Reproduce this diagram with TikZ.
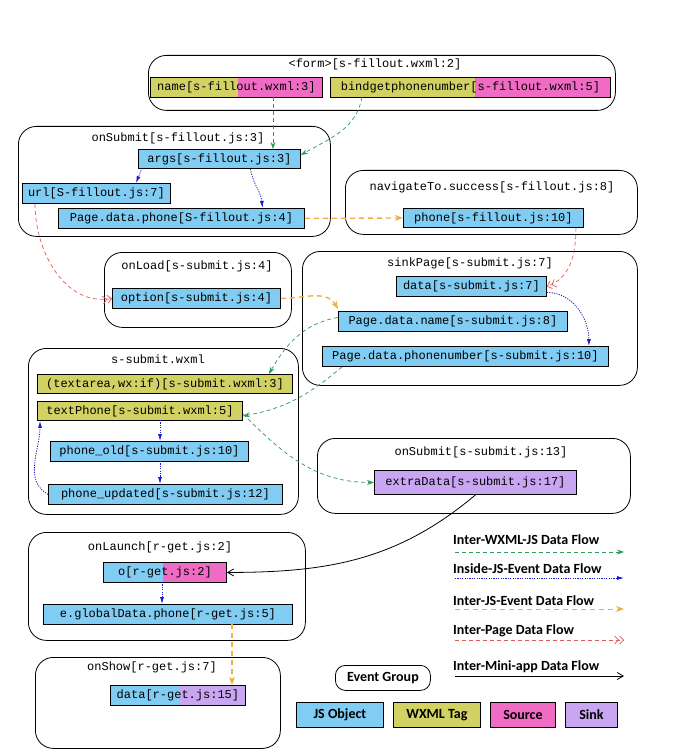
\documentclass[tikz,border=0pt]{standalone}
\usepackage{fontspec}
\setmainfont{Carlito}
\newfontfamily\mono{Liberation Mono}
\usetikzlibrary{arrows.meta}
\definecolor{jsb}{HTML}{80CCF2}
\definecolor{wy}{HTML}{D2D264}
\definecolor{src}{HTML}{F06CC4}
\definecolor{snk}{HTML}{C9A6F2}
\definecolor{gr}{HTML}{2E9A5E}
\definecolor{bl}{HTML}{1A1ACC}
\definecolor{og}{HTML}{F0B040}
\definecolor{rd}{HTML}{E05A5A}
\tikzset{
 obj/.style={draw, line width=0.9pt, fill=#1, inner sep=0pt, anchor=north west, font=\mono\fontsize{12}{12}\selectfont},
 obj/.default=jsb,
 split/.style 2 args={path picture={\fill[#1] ([xshift=#2]path picture bounding box.south west) rectangle (path picture bounding box.north east);}},
 grp/.style={draw, line width=0.8pt, rounded corners=18pt, anchor=north west, inner sep=0pt},
 ttl/.style={font=\mono\fontsize{12}{12}\selectfont, inner sep=0pt},
 gf/.style={gr, dash pattern=on 4pt off 3pt, line width=0.7pt, -{Stealth[length=7pt,width=5pt]}},
 bf/.style={bl, dash pattern=on 1.2pt off 1.2pt, line width=0.8pt, -{Latex[length=7pt,width=4pt]}},
 of/.style={og, dash pattern=on 5pt off 4pt, line width=1.4pt, -{Stealth[length=8pt,width=6pt]}},
 rf/.style={rd, dash pattern=on 4pt off 3pt, line width=0.7pt, -{Straight Barb[length=4pt]Straight Barb[length=4pt]}},
 kf/.style={black, line width=0.8pt, -{Straight Barb[length=6pt,width=7pt]}},
 lg/.style={font=\bfseries\fontsize{14}{14}\selectfont, inner sep=0pt, anchor=west},
 lgb/.style={font=\bfseries\fontsize{14}{14}\selectfont},
}
\newcommand\ob[7][jsb]{\node[obj=#1, minimum width={#5pt-#3pt}, minimum height={#6pt-#4pt}] (#2) at (#3,#4) {#7};}
\newcommand\gp[5]{\node[grp, minimum width={#4pt-#2pt}, minimum height={#5pt-#3pt}] (#1) at (#2,#3) {};}
\begin{document}
\begin{tikzpicture}[x=1pt,y=-1pt]
\useasboundingbox[fill=white] (0,0) rectangle (689,751);
% groups
\gp{gform}{148}{55}{615}{110}
\node[ttl] (tform) at (375,64) {<form>[s-fillout.wxml:2]};
\gp{gsub1}{18}{126}{330}{236}
\node[ttl] (tsub1) at (178,138) {onSubmit[s-fillout.js:3]};
\gp{gnav}{345}{170}{637}{234}
\node[ttl] (tnav) at (492,187) {navigateTo.success[s-fillout.js:8]};
\gp{gload}{104}{252}{291}{327}
\node[ttl] (tload) at (197,266) {onLoad[s-submit.js:4]};
\gp{gsink}{302}{251}{637}{385}
\node[ttl] (tsink) at (470,263) {sinkPage[s-submit.js:7]};
\gp{gwxml}{28}{348}{298}{514}
\node[ttl] (twxml) at (158,359) {s-submit.wxml};
\gp{gsub2}{317}{438}{630}{513}
\node[ttl] (tsub2) at (481,452) {onSubmit[s-submit.js:13]};
\gp{glaunch}{28}{532}{305}{640}
\node[ttl] (tlaunch) at (160,547) {onLaunch[r-get.js:2]};
\gp{gshow}{35}{657}{280}{748}
\node[ttl] (tshow) at (152,667) {onShow[r-get.js:7]};
% objects
\node[obj=wy, split={src}{88pt}, minimum width=172pt, minimum height=20pt] (name) at (150,77) {name[s-fillout.wxml:3]};
\node[obj=wy, split={src}{145pt}, minimum width=280pt, minimum height=20pt] (bind) at (330,77) {bindgetphonenumber[s-fillout.wxml:5]};
\ob{args}{138}{149}{300}{168}{args[s-fillout.js:3]}
\ob{url}{22}{183}{170}{203}{url[S-fillout.js:7]}
\ob{pdp}{58}{208}{304}{228}{Page.data.phone[S-fillout.js:4]}
\ob{phone}{403}{208}{583}{227}{phone[s-fillout.js:10]}
\ob{option}{112}{288}{280}{308}{option[s-submit.js:4]}
\ob{data}{396}{276}{546}{296}{data[s-submit.js:7]}
\ob{pdn}{338}{311}{567}{331}{Page.data.name[s-submit.js:8]}
\ob{pdpn}{322}{346}{608}{366}{Page.data.phonenumber[s-submit.js:10]}
\ob[wy]{tarea}{37}{374}{292}{393}{(textarea,wx:if)[s-submit.wxml:3]}
\ob[wy]{tphone}{37}{401}{242}{420}{textPhone[s-submit.wxml:5]}
\ob{pold}{50}{441}{248}{461}{phone\_old[s-submit.js:10]}
\ob{pupd}{48}{484}{282}{504}{phone\_updated[s-submit.js:12]}
\ob[snk]{extra}{374}{470}{576}{494}{extraData[s-submit.js:17]}
\node[obj=jsb, split={src}{60pt}, minimum width=123pt, minimum height=20pt] (o) at (103,562) {o[r-get.js:2]};
\ob{egd}{43}{604}{292}{624}{e.globalData.phone[r-get.js:5]}
\node[obj=jsb, split={snk}{70pt}, minimum width=135pt, minimum height=20pt] (rdata) at (110,685) {data[r-get.js:15]};
% connectors
\coordinate (c1) at (273,97);
\draw[gf] (c1) -- (c1 |- args.north);
\coordinate (c2) at (362,97);
\draw[gf] (c2) to[out=-100,in=30] ([yshift=-6pt]args.north east);
\coordinate (c3) at (142,168);
\draw[bf] (c3) -- (136,183);
\draw[bf] ([xshift=31pt]args.south) to[out=-80,in=95] ([xshift=81pt]pdp.north);
\draw[of] (pdp.east) -- (phone.west);
\draw[rf] ([xshift=-8pt]phone.south east) to[out=-90,in=20] (data.east);
\draw[rf] ([xshift=13pt]url.south west) to[out=-90,in=190] (option.west);
\draw[of] (option.east) to[out=0,in=120] ([yshift=2pt]pdn.north west);
\draw[bf] ([yshift=-6pt]data.east) to[out=0,in=90] ([xshift=-20pt]pdpn.north east);
\draw[gf] ([yshift=4pt]pdn.west) to[out=190,in=60] ([xshift=-24pt]tarea.north east);
\draw[gf] ([xshift=20pt]pdpn.south west) to[out=-140,in=10] ([yshift=-5pt]tphone.east);
\draw[gf] ([yshift=-3pt]tphone.east) to[out=-45,in=180] (extra.west);
\draw[bf] (160,420) -- (160,441);
\draw[bf] (160,461) -- (160,484);
\draw[bf] (pupd.west) to[out=150,in=-90] ([xshift=3pt]tphone.south west);
\draw[kf] (extra.south) to[out=-140,in=0] (o.east);
\coordinate (c6) at (162,582);
\draw[bf] (c6) -- (c6 |- egd.north);
\coordinate (c7) at (232,624);
\draw[of] (c7) -- (c7 |- rdata.north);
% legend
\node[lg] (l1) at (453,540) {Inter-WXML-JS Data Flow};
\coordinate (l1a) at (455,552); \coordinate (l1b) at (624,552);
\draw[gf] (l1a) -- (l1b);
\node[lg] (l2) at (453,569) {Inside-JS-Event Data Flow};
\coordinate (l2a) at (455,578); \coordinate (l2b) at (624,578);
\draw[bf] (l2a) -- (l2b);
\node[lg] (l3) at (453,601) {Inter-JS-Event Data Flow};
\coordinate (l3a) at (455,609); \coordinate (l3b) at (624,609);
\draw[of, line width=0.8pt] (l3a) -- (l3b);
\node[lg] (l4) at (453,631) {Inter-Page Data Flow};
\coordinate (l4a) at (455,640); \coordinate (l4b) at (624,640);
\draw[rf] (l4a) -- (l4b);
\node[lg] (l5) at (453,667) {Inter-Mini-app Data Flow};
\coordinate (l5a) at (455,676); \coordinate (l5b) at (624,676);
\draw[kf] (l5a) -- (l5b);
\node[grp, lgb, rounded corners=10pt, minimum width=95pt, minimum height=25pt] (eg) at (335,665) {Event Group};
\node[obj=jsb, lgb, minimum width=87pt, minimum height=25pt] (ljs) at (296,702) {JS Object};
\node[obj=wy, lgb, minimum width=87pt, minimum height=25pt] (lwx) at (393,702) {WXML Tag};
\node[obj=src, lgb, minimum width=65pt, minimum height=25pt] (lsrc) at (490,702) {Source};
\node[obj=snk, lgb, minimum width=52pt, minimum height=25pt] (lsnk) at (565,702) {Sink};
\end{tikzpicture}
\end{document}
